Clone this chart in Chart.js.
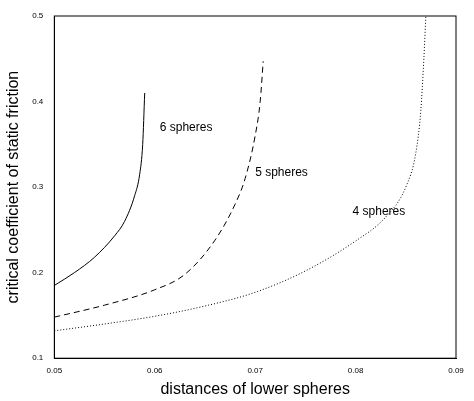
<!DOCTYPE html><html><head><script src="https://cdn.jsdelivr.net/npm/chart.js@4"></script>
<style>body{margin:0;background:#fff}#w{width:474px;height:401px}</style></head><body><div id="w"><canvas id="c"></canvas></div>
<script>
const x6=[0.05,0.052,0.054,0.056,0.057,0.058,0.0585,0.0588,0.059];
const y6=[0.185,0.20,0.218,0.243,0.26,0.29,0.315,0.35,0.41];
const x5=[0.05,0.055,0.06,0.063,0.066,0.068,0.069,0.070,0.0705,0.0708];
const y5=[0.148,0.162,0.18,0.198,0.238,0.28,0.31,0.36,0.40,0.447];
const x4=[0.05,0.055,0.06,0.065,0.07,0.075,0.08,0.083,0.085,0.086,0.0865,0.0868,0.087];
const y4=[0.132,0.14,0.149,0.161,0.177,0.202,0.237,0.265,0.30,0.34,0.39,0.45,0.50];
const labels=[{t:'6 spheres',x:0.0605,y:0.369},{t:'5 spheres',x:0.070,y:0.317},{t:'4 spheres',x:0.0797,y:0.271}];
const pts=(xs,ys)=>xs.map((x,i)=>({x,y:ys[i]}));
const txt={id:'t',afterDraw(c){const g=c.ctx,a=c.chartArea;g.save();g.strokeStyle='#000';g.lineWidth=1;g.strokeRect(a.left,a.top,a.right-a.left,a.bottom-a.top);
g.font='12px "Liberation Sans"';g.fillStyle='#000';g.textBaseline='middle';
labels.forEach(l=>g.fillText(l.t,c.scales.x.getPixelForValue(l.x),c.scales.y.getPixelForValue(l.y)));g.restore();}};
new Chart(document.getElementById('c'),{type:'scatter',data:{datasets:[
{data:pts(x6,y6),showLine:true,borderColor:'#000',borderWidth:1,pointRadius:0,cubicInterpolationMode:'monotone'},
{data:pts(x5,y5),showLine:true,borderColor:'#000',borderWidth:1,borderDash:[6,4],pointRadius:0,cubicInterpolationMode:'monotone'},
{data:pts(x4,y4),showLine:true,borderColor:'#000',borderWidth:1,borderDash:[1,2],pointRadius:0,cubicInterpolationMode:'monotone'}]},
options:{animation:false,responsive:true,maintainAspectRatio:false,layout:{padding:{top:16,right:18,left:0,bottom:2}},
plugins:{legend:{display:false},tooltip:{enabled:false}},
scales:{x:{min:0.05,max:0.09,grid:{display:false},border:{color:'#000'},ticks:{stepSize:0.01,padding:0,color:'#000',font:{size:8,family:'Liberation Sans'},callback:v=>+v.toFixed(2)},
title:{display:true,text:'distances of lower spheres',color:'#000',font:{size:16,family:'Liberation Sans'},padding:{top:4,bottom:0}}},
y:{min:0.1,max:0.5,grid:{display:false},border:{color:'#000'},ticks:{stepSize:0.1,color:'#000',font:{size:8,family:'Liberation Sans'},callback:v=>+v.toFixed(1)},
title:{display:true,text:'critical coefficient of static friction',color:'#000',font:{size:16,family:'Liberation Sans'},padding:{bottom:6}}}}},plugins:[txt]});
</script></body></html>
